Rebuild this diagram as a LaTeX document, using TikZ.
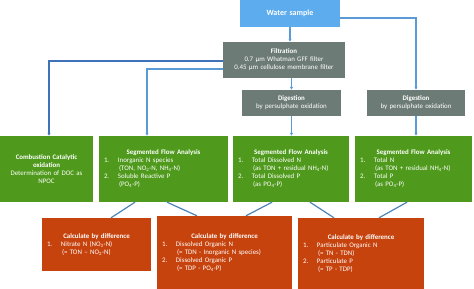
\documentclass[tikz,border=0pt]{standalone}
\usepackage{fontspec}
\setmainfont{Carlito}
\usepackage{tikz}
\usetikzlibrary{calc,positioning,arrows.meta}
\definecolor{Sky}{HTML}{5CACEE}
\definecolor{Slate}{HTML}{6D7B77}
\definecolor{Leaf}{HTML}{4F9A1C}
\definecolor{Rust}{HTML}{C7430E}
\definecolor{Pipe}{HTML}{5B9BD5}
\definecolor{PipeDark}{HTML}{3F72B8}
\newcommand{\itm}[2]{\makebox[14pt][l]{#1}#2}
\newcommand{\cnt}[1]{\hspace*{15pt}#1}
\newcommand{\hd}[1]{\makebox[\hsize][c]{\textbf{#1}}}

\begin{document}
\begin{tikzpicture}[x=1pt,y=-1pt,
  fillbox/.style={fill=#1,text=white,inner xsep=5pt,inner ysep=0pt,font=\fontsize{6.9}{8}\selectfont},
  pipe/.style={Pipe,line width=1.4pt,-{Latex[length=3pt,width=3.5pt]}},
  link/.style={Pipe!85!black,line width=1.2pt}]
\useasboundingbox (0,0) rectangle (474,289);
\node[fillbox=Sky,minimum width=100pt,minimum height=27pt,text width=90pt,align=center,font=\fontsize{8}{9}\selectfont\bfseries] (water) at (290,13.5) {Water sample};
\node[fillbox=Slate,minimum height=36pt,text width=112pt,align=center] (filt) at (284,60) {\textbf{Filtration}\\0.7 µm Whatman GFF filter\\0.45 µm cellulose membrane filter};
\node[fillbox=Slate,minimum height=26pt,text width=89pt,align=center] (digA) at (291.5,103) {\textbf{Digestion}\\by persulphate oxidation};
\node[fillbox=Slate,minimum height=26pt,text width=88pt,align=center] (digB) at (416,103) {\textbf{Digestion}\\by persulphate oxidation};
% analysis row
\node[fillbox=Leaf,minimum height=66pt,text width=83pt,align=center] (comb) at (46.5,169) {\textbf{Combustion Catalytic}\\\textbf{oxidation}\\Determination of DOC as\\NPOC};
\node[fillbox=Leaf,minimum height=66pt,text width=119pt,align=left] (sfaA) at (163.5,169) {\hd{Segmented Flow Analysis}\\\itm{1.}{Inorganic N species}\\\cnt{(TON, NO\textsubscript{2}-N, NH\textsubscript{4}-N)}\\\itm{2.}{Soluble Reactive P}\\\cnt{(PO\textsubscript{4}-P)}};
\node[fillbox=Leaf,minimum height=66pt,text width=106pt,align=left] (sfaB) at (291,169) {\hd{Segmented Flow Analysis}\\\itm{1.}{Total Dissolved N}\\\cnt{(as TON + residual NH\textsubscript{4}-N)}\\\itm{2.}{Total Dissolved P}\\\cnt{(as PO\textsubscript{4}-P)}};
\node[fillbox=Leaf,minimum height=66pt,text width=107pt,align=left] (sfaC) at (413.5,169) {\hd{Segmented Flow Analysis}\\\itm{1.}{Total N}\\\cnt{(as TON + residual NH\textsubscript{4}-N)}\\\itm{2.}{Total P}\\\cnt{(as PO\textsubscript{4}-P)}};
% difference row
\node[fillbox=Rust,minimum height=53pt,text width=99pt,align=left] (calcA) at (96.5,244.5) {\hd{Calculate by difference}\\\itm{1.}{Nitrate N (NO\textsubscript{3}-N)}\\\cnt{(= TON -- NO\textsubscript{2}-N)}};
\node[fillbox=Rust,minimum height=73pt,text width=125pt,align=left] (calcB) at (224.5,252.5) {\hd{Calculate by difference}\\\itm{1.}{Dissolved Organic N}\\\cnt{(= TDN - Inorganic N species)}\\\itm{2.}{Dissolved Organic P}\\\cnt{(= TDP - PO\textsubscript{4}-P)}};
\node[fillbox=Rust,minimum height=71pt,text width=116pt,align=left] (calcC) at (361,253.5) {\hd{Calculate by difference}\\\itm{1.}{Particulate Organic N}\\\cnt{(= TN - TDN)}\\\itm{2.}{Particulate P}\\\cnt{(= TP - TDP)}};
% arrows
\draw[pipe] (water.south) -- (water.south |- filt.north);
\draw[pipe] ([yshift=-4.5pt]water.east) -| (digB.north);
\draw[pipe,PipeDark] ([yshift=-1pt]filt.west) -| ([xshift=2.5pt]comb.north);
\draw[pipe] ([yshift=-9pt]filt.west) -| ([xshift=-16.5pt]sfaA.north);
\draw[pipe] (digA.north |- filt.south) -- (digA.north);
\draw[pipe] (digA.south) -- (digA.south |- sfaB.north);
\draw[pipe] (digB.south) -- (digB.south |- sfaC.north);
\draw[link] ([xshift=-28.5pt]sfaA.south) -- ([xshift=14.5pt]calcA.north);
\draw[link] ([xshift=3.5pt]sfaA.south) -- ([xshift=-27.5pt]calcB.north);
\draw[link] ([xshift=-19pt]sfaB.south) -- ([xshift=21.5pt]calcB.north);
\draw[link] ([xshift=19pt]sfaB.south) -- ([xshift=-27pt]calcC.north);
\draw[link] ([xshift=-6.5pt]sfaC.south) -- ([xshift=18pt]calcC.north);
\end{tikzpicture}
\end{document}
